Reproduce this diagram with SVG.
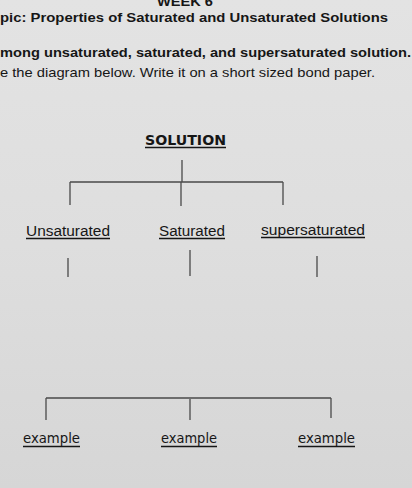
<svg xmlns="http://www.w3.org/2000/svg" width="412" height="488" viewBox="0 0 412 488">
<defs>
<linearGradient id="bg" x1="0" y1="0" x2="0" y2="1">
<stop offset="0" stop-color="#e3e3e3"/>
<stop offset="0.5" stop-color="#dedede"/>
<stop offset="1" stop-color="#d6d6d6"/>
</linearGradient>
</defs>
<style>
.hb{font-family:"Liberation Sans",Arial,sans-serif;font-weight:bold;fill:#161616;}
.hr{font-family:"Liberation Sans",Arial,sans-serif;fill:#161616;}
.ttl{font-family:"DejaVu Sans",Verdana,sans-serif;font-weight:bold;font-size:14px;fill:#161616;}
.ex{font-family:"DejaVu Sans",Verdana,sans-serif;font-size:14px;fill:#161616;}
.ul{stroke:#161616;stroke-width:1.3;}
.c{stroke:#4a4a4a;stroke-width:1.3;fill:none;}
</style>
<rect width="412" height="488" fill="url(#bg)"/>
<g id="header">
<text class="hb" x="157" y="6" font-size="13.5" textLength="56" lengthAdjust="spacingAndGlyphs">WEEK 6</text>
<text class="hb" x="0" y="22" font-size="13.5" textLength="388" lengthAdjust="spacingAndGlyphs">pic: Properties of Saturated and Unsaturated Solutions</text>
<text class="hb" x="0" y="57" font-size="13.5" textLength="411" lengthAdjust="spacingAndGlyphs">mong unsaturated, saturated, and supersaturated solution.</text>
<text class="hr" x="0" y="77" font-size="13" textLength="375" lengthAdjust="spacingAndGlyphs">e the diagram below. Write it on a short sized bond paper.</text>
</g>
<g id="connectors">
<path class="c" d="M182 160V182M70 182H283M70 182V205M181 182V206M283 182V205"/>
<path class="c" d="M68 258V277M190 250V276M317 256V277"/>
<path class="c" d="M46 398H331M46 398V420M190 399V420M331 398V418"/>
</g>
<g id="solution">
<text class="ttl" x="145" y="145" textLength="81" lengthAdjust="spacingAndGlyphs">SOLUTION</text>
<line class="ul" x1="145" y1="147.5" x2="226" y2="147.5"/>
</g>
<g id="unsaturated">
<text class="hr" x="26" y="236" font-size="14" textLength="84" lengthAdjust="spacingAndGlyphs">Unsaturated</text>
<line class="ul" x1="26" y1="238.5" x2="110" y2="238.5"/>
</g>
<g id="saturated">
<text class="hr" x="159" y="236" font-size="14" textLength="66" lengthAdjust="spacingAndGlyphs">Saturated</text>
<line class="ul" x1="159" y1="238.5" x2="225" y2="238.5"/>
</g>
<g id="supersaturated">
<text class="hr" x="261" y="235" font-size="14" textLength="104" lengthAdjust="spacingAndGlyphs">supersaturated</text>
<line class="ul" x1="261" y1="237.5" x2="365" y2="237.5"/>
</g>
<g id="example1">
<text class="ex" x="23" y="443" textLength="57" lengthAdjust="spacingAndGlyphs">example</text>
<line class="ul" x1="23" y1="446.5" x2="80" y2="446.5"/>
</g>
<g id="example2">
<text class="ex" x="161" y="443" textLength="56" lengthAdjust="spacingAndGlyphs">example</text>
<line class="ul" x1="161" y1="446.5" x2="217" y2="446.5"/>
</g>
<g id="example3">
<text class="ex" x="298" y="443" textLength="57" lengthAdjust="spacingAndGlyphs">example</text>
<line class="ul" x1="298" y1="446.5" x2="355" y2="446.5"/>
</g>
</svg>
